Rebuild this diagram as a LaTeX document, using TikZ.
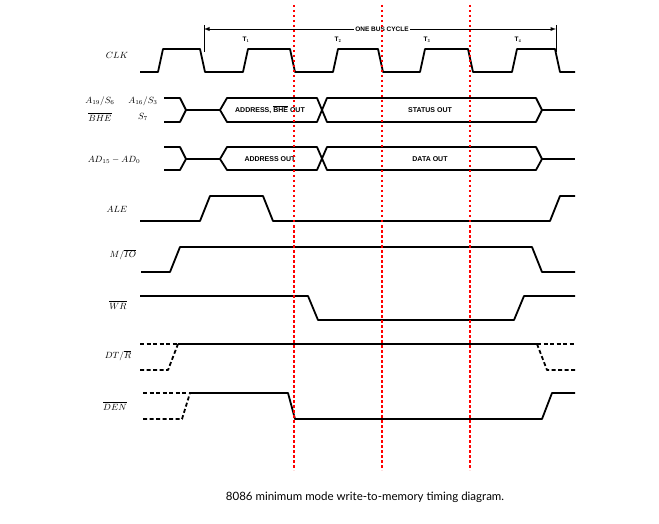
\documentclass[tikz,border=0pt]{standalone}
\usepackage{fontspec}
\newfontfamily\capfont{Lato}
\newfontfamily\busfont{Liberation Sans}
\begin{document}
\begin{tikzpicture}[x=1pt,y=-1pt,
  sig/.style={line width=1.8pt,line join=round},
  dsig/.style={sig,dash pattern=on 4pt off 2.5pt},
  redd/.style={draw=red,line width=1.3pt,dash pattern=on 2.5pt off 2.5pt},
  lab/.style={font=\small,inner sep=0pt},
  bus/.style={font=\busfont\bfseries\fontsize{7}{8}\selectfont,inner sep=0pt},
  tl/.style={font=\busfont\bfseries\fontsize{6.5}{7}\selectfont,inner sep=0pt}]
\useasboundingbox (0,0) rectangle (659,524);
% one bus cycle
\coordinate (ca) at (204,25); \coordinate (cb) at (204,52);
\coordinate (cc) at (556,25); \coordinate (cd) at (556,52);
\draw[line width=0.9pt] (ca) -- (cb) (cc) -- (cd);
\node[tl,fill=white,inner sep=1.5pt] (obc) at (382,29) {ONE BUS CYCLE};
\coordinate (cl) at (204,29); \coordinate (cr) at (556,29);
\draw[line width=0.9pt,-latex] (obc.west) -- (cl);
\draw[line width=0.9pt,-latex] (obc.east) -- (cr);
\node[tl] (t1) at (246,40) {T$_{\mathbf 1}$};
\node[tl] (t2) at (338,40) {T$_{\mathbf 2}$};
\node[tl] (t3) at (427,40) {T$_{\mathbf 3}$};
\node[tl] (t4) at (518,40) {T$_{\mathbf 4}$};
% CLK
\node[lab] (lclk) at (117,55) {$CLK$};
\draw[sig] (140,72) -- (158,72) -- (163,49) -- (200,49) -- (205,72) -- (243,72) -- (248,49) -- (290,49) -- (295,72) -- (333,72) -- (338,49) -- (378,49) -- (383,72) -- (420,72) -- (425,49) -- (468,49) -- (473,72) -- (512,72) -- (517,49) -- (555,49) -- (560,72) -- (575,72);
% bus rows
\foreach \t/\b/\m in {98/122/110,147/170/159}{
  \draw[sig] (164,\t) -- (180,\t) -- (186,\m) -- (180,\b) -- (164,\b);
  \draw[sig] (186,\m) -- (220,\m);
  \draw[sig] (220,\m) -- (227,\t) -- (317,\t) -- (327,\b) -- (536,\b) -- (542,\m) -- (536,\t) -- (327,\t) -- (317,\b) -- (227,\b) -- cycle;
  \draw[sig] (542,\m) -- (575,\m);
}
\node[bus] (b1) at (270,110) {ADDRESS, $\overline{\textbf{BHE}}$ OUT};
\node[bus] (b2) at (430,110) {STATUS OUT};
\node[bus] (b3) at (270,159) {ADDRESS OUT};
\node[bus] (b4) at (430,159) {DATA OUT};
\node[lab] (la1) at (100,101) {$A_{19}/S_6$};
\node[lab] (la2) at (143,101) {$A_{16}/S_3$};
\node[lab] (la3) at (100,117) {$\overline{BHE}$};
\node[lab] (la4) at (143,117) {$S_7$};
\node[lab] (lad) at (114,160) {$AD_{15}-AD_0$};
% ALE
\node[lab] (lale) at (117,209) {$ALE$};
\draw[sig] (140,221) -- (200,221) -- (210,196) -- (263,196) -- (273,221) -- (550,221) -- (560,196) -- (575,196);
% M/IO
\node[lab] (lmio) at (123,255) {$M/\overline{IO}$};
\draw[sig] (141,272) -- (170,272) -- (180,247) -- (532,247) -- (542,272) -- (575,272);
% WR
\node[lab] (lwr) at (118,305) {$\overline{WR}$};
\draw[sig] (140,296) -- (308,296) -- (318,320) -- (514,320) -- (524,296) -- (575,296);
% DT/R
\node[lab] (ldt) at (118,356) {$DT/\overline{R}$};
\draw[dsig] (140,344) -- (178,344);
\draw[dsig] (140,370) -- (168,370) -- (178,344);
\draw[sig] (178,344) -- (537,344);
\draw[dsig] (537,344) -- (575,344);
\draw[dsig] (537,344) -- (547,370) -- (575,370);
% DEN
\node[lab] (lden) at (115,406) {$\overline{DEN}$};
\draw[dsig] (143,393) -- (190,393);
\draw[dsig] (143,419) -- (182,419) -- (190,393);
\draw[sig] (190,393) -- (288,393) -- (295,419) -- (542,419) -- (552,393) -- (575,393);
% red dashed lines
\coordinate (rat) at (294,5); \coordinate (rab) at (294,470);
\coordinate (rbt) at (382,5); \coordinate (rbb) at (382,470);
\coordinate (rct) at (470,5); \coordinate (rcb) at (470,470);
\draw[redd] (rat) -- (rab);
\draw[redd] (rbt) -- (rbb);
\draw[redd] (rct) -- (rcb);
% caption
\node[font=\capfont\fontsize{11.5}{13}\selectfont,inner sep=0pt] (cap) at (365,497) {8086 minimum mode write-to-memory timing diagram.};
\end{tikzpicture}
\end{document}
